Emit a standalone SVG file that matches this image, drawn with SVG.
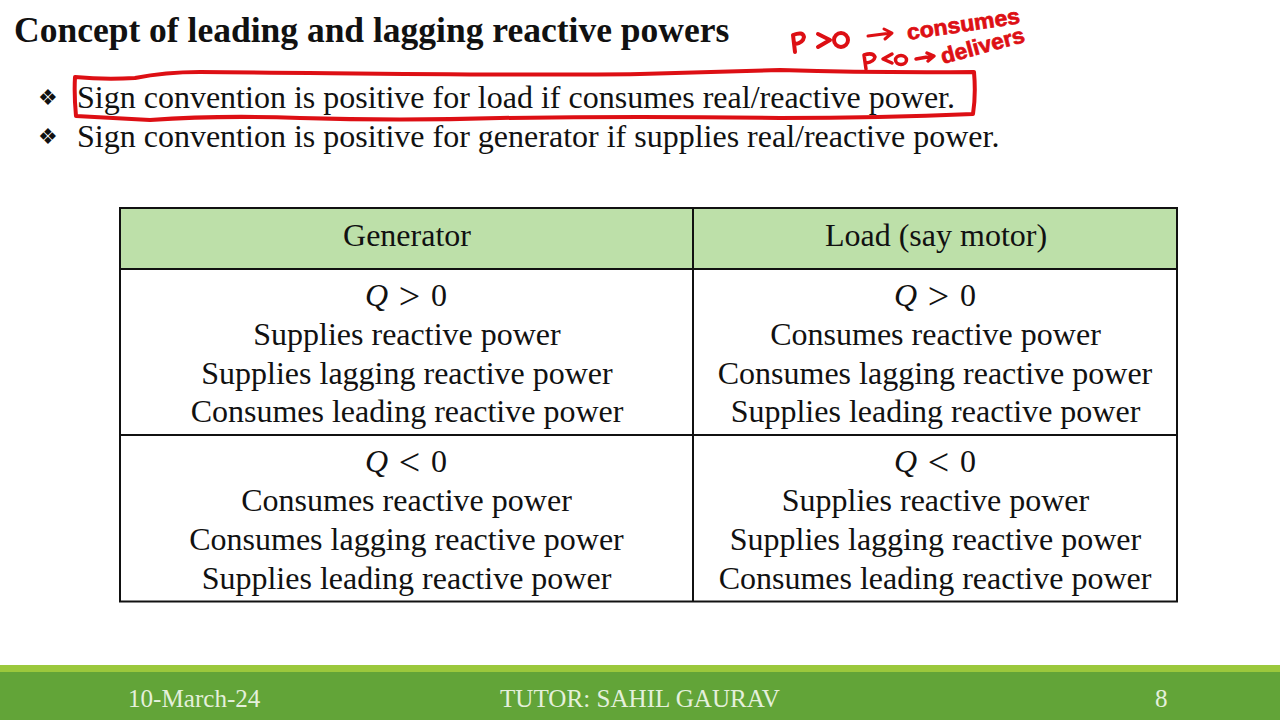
<svg xmlns="http://www.w3.org/2000/svg" width="1280" height="720" viewBox="0 0 1280 720">
<style>
text{font-family:"Liberation Serif","Times New Roman",serif;fill:#111}
.b{font-size:32px}
.t{font-size:32px;text-anchor:middle}
.m{font-size:32px;text-anchor:middle}
.q{font-style:italic}
.o{font-size:38px}
.f{font-size:25.100px;fill:#e4f0dc}
.g{fill:none;stroke:#111;stroke-width:2}
.h{font-family:"Liberation Sans",sans-serif;font-weight:bold;fill:#dd0f14;stroke:#dd0f14;stroke-width:.7}
.r{fill:none;stroke:#dd0f14;stroke-linecap:round;stroke-linejoin:round}
</style>
<rect width="1280" height="720" fill="#fff"/>
<text id="title" x="14" y="42" font-size="35.500" font-weight="bold">Concept of leading and lagging reactive powers</text>
<g id="bullets">
<text x="38" y="105" font-size="22" font-family="DejaVu Sans">❖</text>
<text x="38" y="144" font-size="22" font-family="DejaVu Sans">❖</text>
<text x="77" y="108" class="b">Sign convention is positive for load if consumes real/reactive power.</text>
<text x="77" y="146.500" class="b">Sign convention is positive for generator if supplies real/reactive power.</text>
</g>
<g id="annotation">
<path class="r" stroke-width="4" d="M75 77 Q105 80 135 78 Q165 72 200 72 C350 73 500 76 640 74 Q720 72 780 70 Q880 73 974 72 Q976 95 973 114 Q880 118 780 118 Q640 116 500 118 Q400 121 300 118 Q220 115 150 120 Q110 118 76 116 Q74 95 75 77Z"/>
<path class="r" stroke-width="4" d="M795 52 L793 35 Q803 31 804 37 Q803 43 795 44M818 34 L830 40 L818 47"/>
<ellipse class="r" stroke-width="4" cx="841" cy="40" rx="7" ry="7"/>
<path class="r" stroke-width="3" d="M868 36 L891 33M884 29 L892 33 L885 39"/>
<path class="r" stroke-width="3.500" d="M866 69 L864 55 Q873 52 875 57 Q874 62 866 63M892 54 L883 59 L892 63"/>
<ellipse class="r" stroke-width="3.500" cx="901" cy="60" rx="5.500" ry="4.500"/>
<path class="r" stroke-width="3.500" d="M916 59 L933 56M927 53 L934 56 L928 61"/>
<text class="h" x="908" y="40" font-size="22" transform="rotate(-8.500 908 40)" textLength="114" lengthAdjust="spacingAndGlyphs">consumes</text>
<text class="h" x="943" y="64" font-size="22" transform="rotate(-15 943 64)" textLength="86" lengthAdjust="spacingAndGlyphs">delivers</text>
</g>
<g id="table">
<rect x="120" y="208" width="1057" height="61" fill="#bde0a9"/>
<rect class="g" x="120" y="208" width="1057" height="393.500"/>
<path class="g" d="M120 269H1177M120 435H1177M693 208V601.500"/>
</g>
<g id="cell-generator-head"><text class="t" x="407" y="245.500">Generator</text></g>
<g id="cell-load-head"><text class="t" x="936" y="245.500">Load (say motor)</text></g>
<g id="cell-gen-qpos">
<text class="m" x="406" y="306" textLength="82"><tspan class="q">Q</tspan> <tspan class="o" dy="3">&gt;</tspan><tspan dy="-3"> 0</tspan></text>
<text class="t" x="407" y="344.500">Supplies reactive power</text>
<text class="t" x="407" y="383.500">Supplies lagging reactive power</text>
<text class="t" x="407" y="421.500">Consumes leading reactive power</text>
</g>
<g id="cell-load-qpos">
<text class="m" x="935" y="306" textLength="82"><tspan class="q">Q</tspan> <tspan class="o" dy="3">&gt;</tspan><tspan dy="-3"> 0</tspan></text>
<text class="t" x="935.500" y="344.500">Consumes reactive power</text>
<text class="t" x="935" y="383.500">Consumes lagging reactive power</text>
<text class="t" x="935.500" y="421.500">Supplies leading reactive power</text>
</g>
<g id="cell-gen-qneg">
<text class="m" x="406" y="472" textLength="82"><tspan class="q">Q</tspan> <tspan class="o" dy="3">&lt;</tspan><tspan dy="-3"> 0</tspan></text>
<text class="t" x="406.500" y="510.500">Consumes reactive power</text>
<text class="t" x="406.500" y="549.500">Consumes lagging reactive power</text>
<text class="t" x="406.500" y="588.500">Supplies leading reactive power</text>
</g>
<g id="cell-load-qneg">
<text class="m" x="935" y="472" textLength="82"><tspan class="q">Q</tspan> <tspan class="o" dy="3">&lt;</tspan><tspan dy="-3"> 0</tspan></text>
<text class="t" x="935.500" y="510.500">Supplies reactive power</text>
<text class="t" x="935.500" y="549.500">Supplies lagging reactive power</text>
<text class="t" x="935" y="588.500">Consumes leading reactive power</text>
</g>
<g id="footer">
<rect x="0" y="665" width="1280" height="8" fill="#9bc83c"/>
<rect x="0" y="672" width="1280" height="48" fill="#62a438"/>
<text class="f" x="128" y="707">10-March-24</text>
<text class="f" x="500" y="707">TUTOR: SAHIL GAURAV</text>
<text class="f" x="1155" y="707">8</text>
</g>
</svg>
